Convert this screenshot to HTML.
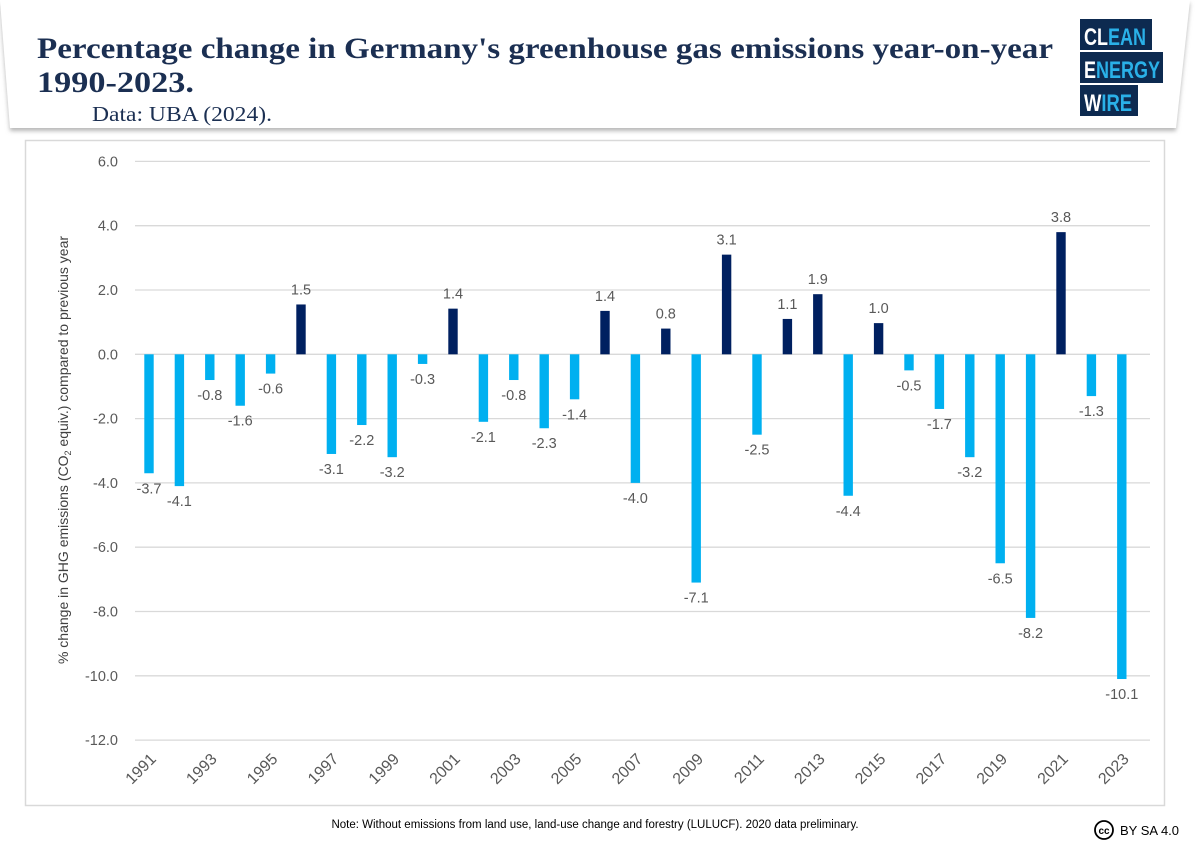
<!DOCTYPE html>
<html><head><meta charset="utf-8"><style>
body{margin:0;width:1200px;height:848px;background:#fff;overflow:hidden;font-family:"Liberation Sans",sans-serif}
</style></head><body>
<svg width="1200" height="848" xmlns="http://www.w3.org/2000/svg">
<defs><filter id="sh" x="-5%" y="-20%" width="110%" height="150%"><feDropShadow dx="0" dy="3" stdDeviation="2" flood-color="#999" flood-opacity="0.7"/></filter></defs>
<polygon points="0,0 1190,0 1176,128 10,128" fill="#fff" filter="url(#sh)"/>
<text x="37" y="58" font-family="Liberation Serif,serif" font-weight="bold" font-size="30" fill="#1b2f52" textLength="1016" lengthAdjust="spacingAndGlyphs">Percentage change in Germany's greenhouse gas emissions year-on-year</text>
<text x="37" y="92" font-family="Liberation Serif,serif" font-weight="bold" font-size="30" fill="#1b2f52" textLength="157" lengthAdjust="spacingAndGlyphs">1990-2023.</text>
<text x="92" y="121" font-family="Liberation Serif,serif" font-size="21" fill="#1b2f52" textLength="180" lengthAdjust="spacingAndGlyphs">Data: UBA (2024).</text>
<g font-family="Liberation Sans,sans-serif" font-weight="bold" font-size="24">
<rect x="1080" y="19" width="72" height="31" fill="#0d2a50"/><text x="1084" y="45" fill="#fff" textLength="62" lengthAdjust="spacingAndGlyphs">CL<tspan fill="#2ab0e8">EAN</tspan></text>
<rect x="1080" y="52" width="83" height="31" fill="#0d2a50"/><text x="1084" y="78" fill="#fff" textLength="76" lengthAdjust="spacingAndGlyphs">E<tspan fill="#2ab0e8">NERGY</tspan></text>
<rect x="1080" y="85" width="58" height="31" fill="#0d2a50"/><text x="1084" y="111" fill="#fff" textLength="48" lengthAdjust="spacingAndGlyphs">W<tspan fill="#2ab0e8">IRE</tspan></text>
</g>
<rect x="25.5" y="140.5" width="1139" height="665" fill="none" stroke="#d9d9d9" stroke-width="1.5"/>
<g id="grid" stroke="#d9d9d9" stroke-width="1.3"></g>
<g id="bars"></g>
<text transform="translate(68,450) rotate(-90)" text-anchor="middle" font-size="14" fill="#404040">% change in GHG emissions (CO<tspan font-size="9" dy="3">2</tspan><tspan dy="-3"> equiv.) compared to previous year</tspan></text>
<text x="595" y="828" text-anchor="middle" font-size="11.5" fill="#000">Note: Without emissions from land use, land-use change and forestry (LULUCF). 2020 data preliminary.</text>
<circle cx="1104" cy="830" r="9" fill="none" stroke="#000" stroke-width="1.8"/>
<text x="1104" y="834" text-anchor="middle" font-size="10" font-weight="bold">cc</text>
<text x="1120" y="835" font-size="13" fill="#000">BY SA 4.0</text>
</svg>
<script>
const ns="http://www.w3.org/2000/svg";
const y0=354.3,k=32.15;
const g=document.getElementById('grid'),b=document.getElementById('bars');
function el(t,a,p,txt){const e=document.createElementNS(ns,t);for(const x in a)e.setAttribute(x,a[x]);if(txt!==undefined)e.textContent=txt;p.appendChild(e);return e;}
for(let v=6;v>=-12;v-=2){const y=y0-v*k;el('line',{x1:135,x2:1150,y1:y,y2:y},g);
el('text',{x:118,y:y+5,'text-anchor':'end','font-size':14.5,fill:'#595959'},b,v.toFixed(1));}
const d=[-3.7,-4.1,-0.8,-1.6,-0.6,1.5,-3.1,-2.2,-3.2,-0.3,1.4,-2.1,-0.8,-2.3,-1.4,1.4,-4.0,0.8,-7.1,3.1,-2.5,1.1,1.9,-4.4,1.0,-0.5,-1.7,-3.2,-6.5,-8.2,3.8,-1.3,-10.1];
const hv={1996:1.55,2001:1.42,2006:1.35,2013:1.87,2015:0.97};
d.forEach((v,i)=>{const x=149+i*30.4;const yr=1991+i;const val=hv[yr]||v;
const h=Math.abs(val)*k;const pos=v>0;
el('rect',{x:x-4.7,y:pos?y0-h:y0,width:9.4,height:h,fill:pos?'#002060':'#00b0f0'},b);
el('text',{x:x,y:pos?y0-h-10:y0+h+20,'text-anchor':'middle','font-size':14.5,fill:'#595959'},b,v.toFixed(1));
if(i%2==0)el('text',{transform:`translate(${x+8},${760}) rotate(-45)`,'text-anchor':'end','font-size':16,fill:'#595959'},b,String(yr));
});
</script>
</body></html>
